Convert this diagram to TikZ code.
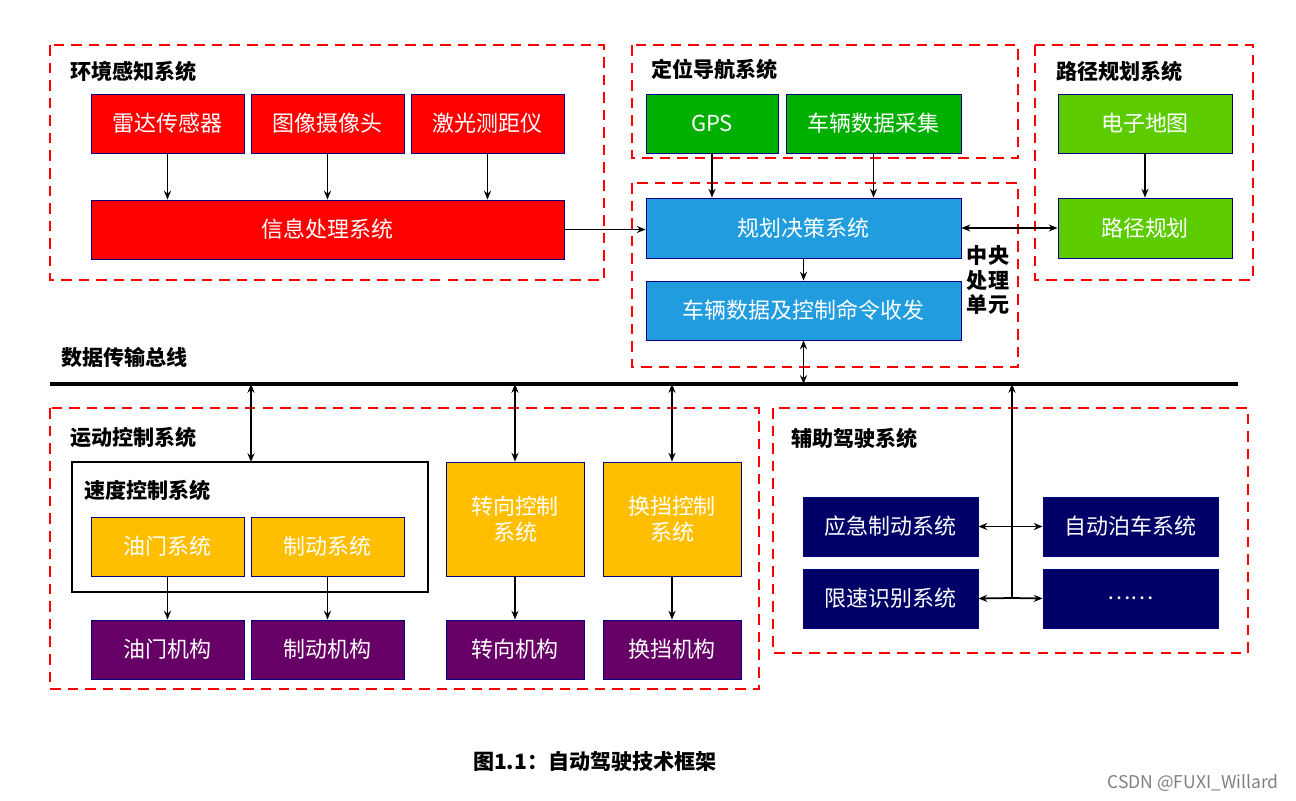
\documentclass[tikz,border=0pt]{standalone}
\usepackage{fontspec}
\setmainfont{Noto Sans CJK SC}
\usetikzlibrary{arrows.meta}
\begin{document}
\begin{tikzpicture}[x=0.02cm,y=-0.02cm,
 box/.style={draw=blue!50!black,line width=0.5pt,text=white,font=\fontsize{12.5}{15}\selectfont,inner sep=0pt,align=center},
 grp/.style={draw=red,dashed,line width=1.5pt,dash pattern=on 6pt off 4pt},
 ttl/.style={anchor=west,font=\bfseries\fontsize{12}{14}\selectfont},
 arr/.style={-{Stealth[length=5pt,width=4pt]},line width=1pt},
 darr/.style={{Stealth[length=5pt,width=4pt]}-{Stealth[length=5pt,width=4pt]},line width=1pt}]
\useasboundingbox (0,0) rectangle (1296,801);
\def\bx#1#2#3#4#5#6#7{\node[box,fill=#2,minimum width={(#5-#3)*0.02cm},minimum height={(#6-#4)*0.02cm}] (#1) at ({(#3+#5)/2},{(#4+#6)/2}) {#7};}
\draw[grp] (50,45) rectangle (604,280);
\draw[grp] (632,45) rectangle (1018,158);
\draw[grp] (632,183) rectangle (1018,367);
\draw[grp] (1035,45) rectangle (1253,280);
\draw[grp] (50,408) rectangle (759,689);
\draw[grp] (773,408) rectangle (1248,653);
\draw[line width=1.5pt] (72,462) rectangle (428,592);
\node[ttl] (t1) at (64,71) {环境感知系统};
\node[ttl] (t2) at (645,69) {定位导航系统};
\node[ttl] (t3) at (1050,71) {路径规划系统};
\node[ttl] (t4) at (64,438) {运动控制系统};
\node[ttl] (t5) at (785,438) {辅助驾驶系统};
\node[ttl] (t6) at (78,490) {速度控制系统};
\node[ttl] (t7) at (55,357) {数据传输总线};
\node[font=\bfseries\fontsize{12}{14}\selectfont,align=center] (t8) at (988,280) {中央\\处理\\单元};
\bx{a1}{red}{91}{94}{244}{153}{雷达传感器}
\bx{a2}{red}{251}{94}{404}{153}{图像摄像头}
\bx{a3}{red}{411}{94}{564}{153}{激光测距仪}
\bx{a4}{red}{91}{200}{564}{259}{信息处理系统}
\bx{b1}{green!69!black}{646}{94}{778}{153}{GPS}
\bx{b2}{green!69!black}{786}{94}{961}{153}{车辆数据采集}
\bx{c1}{cyan!80!blue!90}{646}{198}{961}{258}{规划决策系统}
\bx{c2}{cyan!80!blue!90}{646}{281}{961}{340}{车辆数据及控制命令收发}
\bx{d1}{lime!60!green!80!black}{1058}{94}{1232}{153}{电子地图}
\bx{d2}{lime!60!green!80!black}{1058}{198}{1232}{258}{路径规划}
\bx{e1}{orange!50!yellow}{91}{517}{244}{576}{油门系统}
\bx{e2}{orange!50!yellow}{251}{517}{404}{576}{制动系统}
\bx{e3}{orange!50!yellow}{446}{462}{584}{576}{转向控制\\系统}
\bx{e4}{orange!50!yellow}{603}{462}{741}{576}{换挡控制\\系统}
\bx{f1}{violet!80!black}{91}{620}{244}{679}{油门机构}
\bx{f2}{violet!80!black}{251}{620}{404}{679}{制动机构}
\bx{f3}{violet!80!black}{446}{620}{584}{679}{转向机构}
\bx{f4}{violet!80!black}{603}{620}{741}{679}{换挡机构}
\bx{g1}{blue!40!black}{803}{497}{978}{556}{应急制动系统}
\bx{g2}{blue!40!black}{1043}{497}{1218}{556}{自动泊车系统}
\bx{g3}{blue!40!black}{803}{569}{978}{628}{限速识别系统}
\bx{g4}{blue!40!black}{1043}{569}{1218}{628}{……}
\coordinate (L) at (50,384); \coordinate (R) at (1238,384);
\draw[line width=2.2pt] (L) -- (R);
\foreach \s/\t in {a1/a4,a2/a4,a3/a4,b1/c1,b2/c1,c1/c2,d1/d2,e1/f1,e2/f2,e3/f3,e4/f4}
 \draw[arr] (\s.south) -- (\s.south |- \t.north);
\draw[arr] (a4.east) -- (c1.west |- a4.east);
\draw[darr] (c1.east) -- (d2.west);
\draw[darr] (c2.south) -- (c2.south |- L);
\draw[darr] (251,384) -- (251,462);
\draw[darr] (e3.north |- L) -- (e3.north);
\draw[darr] (e4.north |- L) -- (e4.north);
\draw[darr] (g1.east) -- (g2.west);
\coordinate (J) at (1012,598);
\draw[arr] (J) -- (1012,384);
\draw[arr] (J) -- (g3.east);
\draw[arr] (J) -- (g4.west);
\node[font=\bfseries\fontsize{12}{14}\selectfont] (cap) at (595,762) {图1.1：自动驾驶技术框架};
\node[font=\fontsize{10}{12}\selectfont,text=gray,anchor=east] (wm) at (1285,783) {CSDN @FUXI\_Willard};
\end{tikzpicture}
\end{document}
